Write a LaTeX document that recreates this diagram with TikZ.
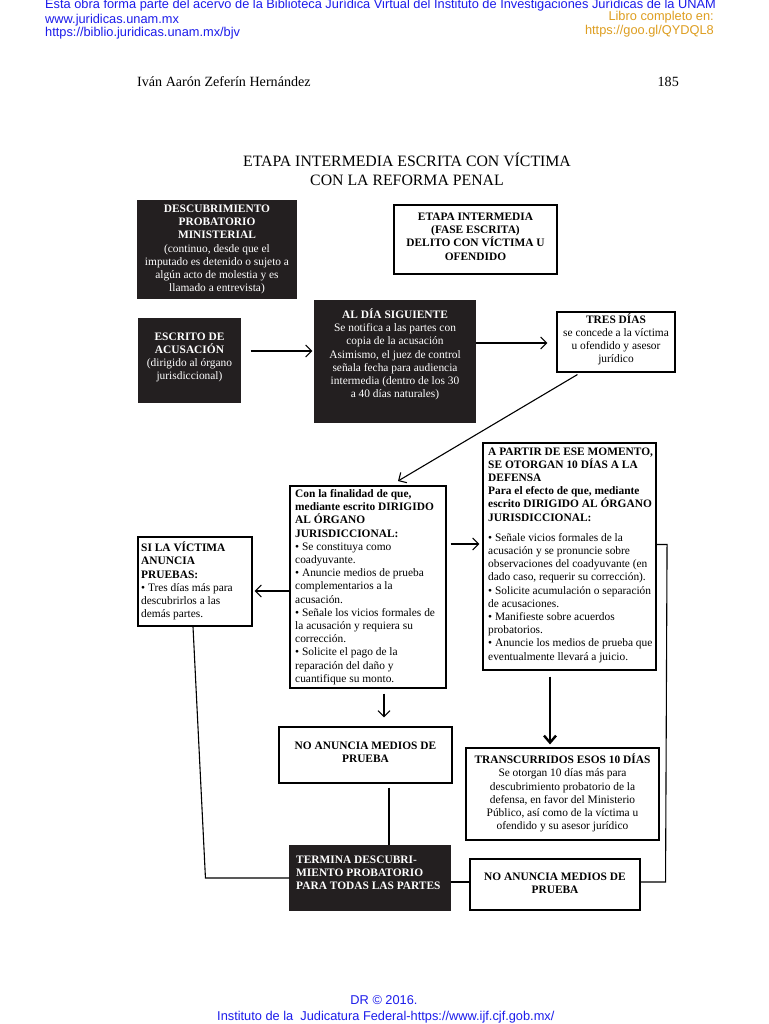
\documentclass[tikz,border=0pt]{standalone}
\usepackage{fontspec}
\setmainfont{Liberation Serif}
\newfontfamily\hdr{Liberation Sans}
\usetikzlibrary{arrows.meta,calc}
\definecolor{hblue}{RGB}{28,28,235}
\definecolor{horange}{RGB}{222,158,32}
\definecolor{boxblack}{RGB}{35,31,32}
\begin{document}
\begin{tikzpicture}[x=1pt,y=-1pt,
  wbox/.style={draw=black, line width=1.1pt, fill=white, inner sep=0pt},
  bbox/.style={draw=boxblack, line width=1.1pt, fill=boxblack, inner sep=0pt},
  txt/.style={inner sep=0pt, font=\fontsize{11.4}{13.2}\selectfont},
  btxt/.style={inner sep=0pt, font=\bfseries\fontsize{11.4}{13.2}\selectfont},
  wtxt/.style={txt, text=white},
  hdrtxt/.style={inner sep=0pt, font=\hdr\fontsize{12.8}{14}\selectfont},
  conn/.style={line width=1.1pt, -{Straight Barb[length=6pt,width=12pt]}},
  thick conn/.style={line width=2.4pt, -{Straight Barb[length=7pt,width=12pt]}},
  plain conn/.style={line width=1.1pt}
]
\useasboundingbox (0,0) rectangle (768,1024);
\fill[white] (0,0) rectangle (768,1024);

% header
\node[hdrtxt, text=hblue, anchor=base west] (h1) at (45,9) {Esta obra forma parte del acervo de la Biblioteca Jurídica Virtual del Instituto de Investigaciones Jurídicas de la UNAM};
\node[hdrtxt, text=hblue, anchor=base west] (h2) at (45,23.5) {www.juridicas.unam.mx};
\node[hdrtxt, text=hblue, anchor=base west] (h3) at (45,37) {https://biblio.juridicas.unam.mx/bjv};
\node[hdrtxt, text=horange, anchor=base east] (h4) at (714,21) {Libro completo en:};
\node[hdrtxt, text=horange, anchor=base east] (h5) at (714,34.5) {https://goo.gl/QYDQL8};

% author line
\node[inner sep=0pt, anchor=base west, font=\fontsize{14.1}{16}\selectfont] (author) at (137,86.5) {Iván Aarón Zeferín Hernández};
\node[inner sep=0pt, anchor=base east, font=\fontsize{14.1}{16}\selectfont] (page) at (679,86.5) {185};

% title
\node[inner sep=0pt, align=center, font=\fontsize{15.8}{19}\selectfont] (title) at (407,169) {ETAPA INTERMEDIA ESCRITA CON VÍCTIMA\\CON LA REFORMA PENAL};

% boxes
\node[bbox, minimum width=158pt, minimum height=97pt] (b1) at (217,249.5) {};
\node[wbox, minimum width=163pt, minimum height=69pt] (b2) at (475.5,239.5) {};
\node[bbox, minimum width=101pt, minimum height=83pt] (b3) at (189.5,360.5) {};
\node[bbox, minimum width=160pt, minimum height=121pt] (b4) at (395,361.5) {};
\node[wbox, minimum width=118pt, minimum height=60pt] (b5) at (616,342) {};
\node[wbox, minimum width=156pt, minimum height=202pt] (b6) at (368,587) {};
\node[wbox, minimum width=114pt, minimum height=89pt] (b7) at (195,581.5) {};
\node[wbox, minimum width=173pt, minimum height=227pt] (b8) at (569.5,556.5) {};
\node[wbox, minimum width=173pt, minimum height=56pt] (b9) at (365.5,755) {};
\node[wbox, minimum width=193pt, minimum height=92pt] (b10) at (562.5,794) {};
\node[bbox, minimum width=160pt, minimum height=64pt] (b11) at (370,878) {};
\node[wbox, minimum width=170pt, minimum height=51pt] (b12) at (555,884.5) {};

% texts
\node[wtxt, align=center] (t1) at (217,249.5) {\textbf{DESCUBRIMIENTO}\\\textbf{PROBATORIO}\\\textbf{MINISTERIAL}\\(continuo, desde que el\\imputado es detenido o sujeto a\\algún acto de molestia y es\\llamado a entrevista)};
\node[btxt, align=center] (t2) at (475.5,236.5) {ETAPA INTERMEDIA\\(FASE ESCRITA)\\DELITO CON VÍCTIMA U\\OFENDIDO};
\node[wtxt, align=center] (t3) at (189.5,357.5) {\textbf{ESCRITO DE}\\\textbf{ACUSACIÓN}\\(dirigido al órgano\\jurisdiccional)};
\node[wtxt, align=center] (t4) at (395,354.5) {\textbf{AL DÍA SIGUIENTE}\\Se notifica a las partes con\\copia de la acusación\\Asimismo, el juez de control\\señala fecha para audiencia\\intermedia (dentro de los 30\\a 40 días naturales)};
\node[txt, align=center] (t5) at (616,339.5) {\textbf{TRES DÍAS}\\se concede a la víctima\\u ofendido y asesor\\jurídico};
\node[txt, align=left, anchor=west] (t6) at (295,587) {\textbf{Con la finalidad de que,}\\\textbf{mediante escrito DIRIGIDO}\\\textbf{AL ÓRGANO}\\\textbf{JURISDICCIONAL:}\\• Se constituya como\\coadyuvante.\\• Anuncie medios de prueba\\complementarios a la\\acusación.\\• Señale los vicios formales de\\la acusación y requiera su\\corrección.\\• Solicite el pago de la\\reparación del daño y\\cuantifique su monto.};
\node[txt, align=left, anchor=west] (t7) at (141,581) {\textbf{SI LA VÍCTIMA}\\\textbf{ANUNCIA}\\\textbf{PRUEBAS:}\\• Tres días más para\\descubrirlos a las\\demás partes.};
\node[txt, align=left, anchor=west] (t8) at (488,555) {\textbf{A PARTIR DE ESE MOMENTO,}\\\textbf{SE OTORGAN 10 DÍAS A LA}\\\textbf{DEFENSA}\\\textbf{Para el efecto de que, mediante}\\\textbf{escrito DIRIGIDO AL ÓRGANO}\\\textbf{JURISDICCIONAL:}\\[7pt]• Señale vicios formales de la\\acusación y se pronuncie sobre\\observaciones del coadyuvante (en\\dado caso, requerir su corrección).\\• Solicite acumulación o separación\\de acusaciones.\\• Manifieste sobre acuerdos\\probatorios.\\• Anuncie los medios de prueba que\\eventualmente llevará a juicio.};
\node[btxt, align=center] (t9) at (365.5,752.5) {NO ANUNCIA MEDIOS DE\\PRUEBA};
\node[txt, align=center] (t10) at (562.5,793) {\textbf{TRANSCURRIDOS ESOS 10 DÍAS}\\Se otorgan 10 días más para\\descubrimiento probatorio de la\\defensa, en favor del Ministerio\\Público, así como de la víctima u\\ofendido y su asesor jurídico};
\node[btxt, text=white, align=left, anchor=west] (t11) at (296,873) {TERMINA DESCUBRI-\\MIENTO PROBATORIO\\PARA TODAS LAS PARTES};
\node[btxt, align=center] (t12) at (555,883) {NO ANUNCIA MEDIOS DE\\PRUEBA};

% connectors
\coordinate (c35) at (398,481);
\draw[conn] ($(b3.east)+(10,-9.5)$) -- ($(b4.west)+(-2,-10.5)$);
\draw[conn] ($(b4.east)+(0,-18.5)$) -- ($(b5.west)+(-9,1)$);
\draw[conn] ($(b5.south west)+(21,2)$) -- (c35);
\draw[conn] ($(b6.east)+(4,-43)$) -- ($(b8.west)+(-3,-12.5)$);
\draw[conn] ($(b6.west)+(0,4)$) -- ($(b7.east)+(2,9.5)$);
\draw[conn] ($(b6.south)+(16,5)$) -- ($(b9.north)+(18.5,-9)$);
\draw[thick conn] ($(b8.south)+(-19.5,6)$) -- ($(b10.north)+(-12.5,-3)$);
\draw[line width=2.4pt] ($(b9.south)+(23.5,4)$) -- ($(b11.north)+(19,0)$);
\draw[plain conn] ($(b7.south)+(-2,0)$) -- ($(b11.west)+(-84,0)$) -- (b11.west);
\draw[plain conn] ($(b11.east)+(0,4)$) -- ($(b12.west)+(0,-2.5)$);
\draw[plain conn] ($(b12.east)+(0,-2.5)$) -- ($(b12.east)+(25,-2.5)$) -- ($(b8.east)+(10.5,-12)$) -- ($(b8.east)+(0,-12)$);

% footer
\node[hdrtxt, text=hblue, anchor=base] (f1) at (384,1004.5) {DR © 2016.};
\node[hdrtxt, text=hblue, anchor=base west] (f2) at (217,1020.5) {Instituto de la\ \ Judicatura Federal-https://www.ijf.cjf.gob.mx/};
\end{tikzpicture}
\end{document}
